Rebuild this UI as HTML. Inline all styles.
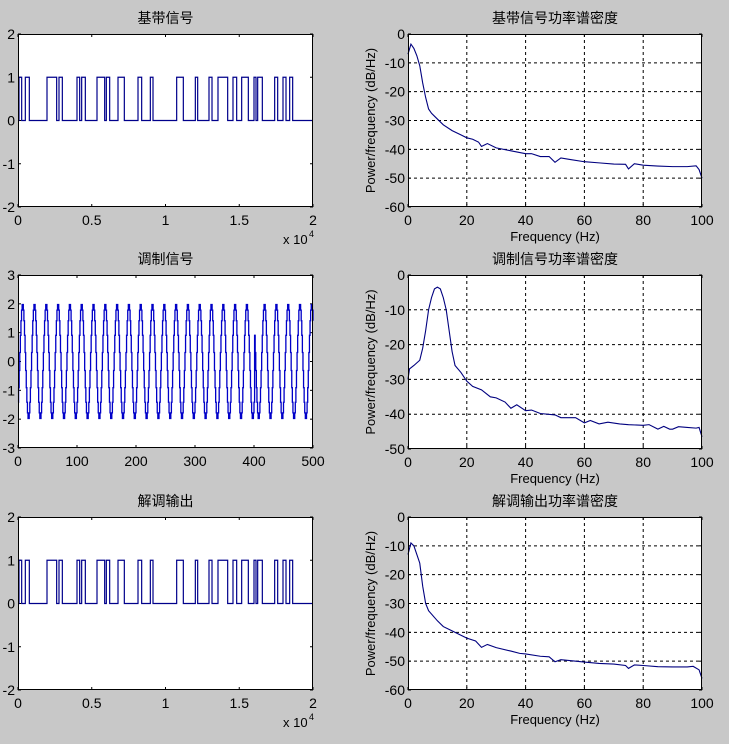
<!DOCTYPE html>
<html><head><meta charset="utf-8">
<style>
html,body{margin:0;padding:0;background:#c8c8c8;}
svg{display:block;}
text{font-family:"Liberation Sans","Noto Sans CJK SC",sans-serif;fill:#000;}
</style></head>
<body>
<svg id="fig" width="729" height="744" viewBox="0 0 729 744" xmlns="http://www.w3.org/2000/svg">
<rect x="0" y="0" width="729" height="744" fill="#c8c8c8"/>
</svg>
<script>
// ---- data ----
// baseband high intervals (sample index, start/end), 20000 samples
const bitRises = [68,497,1966,2780,4000,4316,5356,5989,6780,8136,8972,10757,12023,12949,13559,14576,15164,16000,16249,17401,17966,18418];
const bitFalls = [249,768,2621,3006,4181,4565,5876,6215,7209,8384,9153,11209,12181,13153,14215,14825,15616,16136,16565,17605,18170,18621];
// modulated carrier parameters & phase flips
const carrierAmp = [2];
const carrierPeriod = [20];
const carrierOffset = [2.5];
const phaseFlips = [401];
// PSD series
const psd1F = [0,1,2,3,4,5,6,7,8,10,12,15,18,20,22,24,25,26,27,30,35,40,42,45,48,50,52,55,60,65,70,74,75,77,80,85,90,95,98,99,100];
const psd1V = [-7,-3.5,-5,-7.5,-11,-17,-22,-26,-27.5,-29.5,-31.5,-33.5,-35,-36,-36.5,-37.5,-39,-38.5,-38,-39.5,-40.5,-41.5,-41.5,-42.5,-42.5,-44.5,-43,-43.5,-44.3,-44.7,-45.1,-45.2,-46.8,-45,-45.5,-45.8,-46,-46,-45.7,-47,-50];
const psd2F = [0,0.5,2,4,5,6,7,8,9,10,11,12,13,14,15,16,18,20,22,25,28,30,33,35,37,40,42,45,50,52,57,60,62,65,68,72,75,80,82,85,87,89,90,92,95,98,99,100];
const psd2V = [-30,-27,-26,-24.5,-21,-16,-10,-6.5,-4,-3.5,-4,-6.5,-10,-16,-22,-26,-28,-30.5,-32,-33,-35,-35.3,-36.5,-38.3,-37.3,-39,-38.8,-39.8,-40.2,-41,-41,-42.5,-41.8,-42.8,-42.3,-42.8,-43,-43.2,-43,-44.3,-43.5,-44.3,-44.3,-43.6,-43.8,-44,-43.8,-46.5];
const psd3F = [0,1,2,3,4,5,6,7,10,12,15,18,20,23,25,27,30,35,38,40,45,48,50,52,55,60,65,70,74,75,77,80,85,90,95,97,99,100];
const psd3V = [-13,-9,-10,-13,-16,-24,-30,-32.5,-36,-38,-39.5,-41,-42,-43,-45.2,-44.2,-45.3,-46.5,-47.3,-47.5,-48.3,-48.5,-50.2,-49.5,-49.8,-50.3,-50.8,-51,-51.5,-52.5,-51.3,-51.5,-51.9,-52,-52,-51.8,-53,-56];
const digXTicks = ["0","0.5","1","1.5","2"];
const digYTicks = ["-2","-1","0","1","2"];
const modXTicks = ["0","100","200","300","400","500"];
const modYTicks = ["-3","-2","-1","0","1","2","3"];
const freqTicks = ["0","20","40","60","80","100"];
const psd1YTicks = ["-60","-50","-40","-30","-20","-10","0"];
const psd2YTicks = ["-50","-40","-30","-20","-10","0"];
const psd3YTicks = ["-60","-50","-40","-30","-20","-10","0"];

const NS="http://www.w3.org/2000/svg";
const fig=document.getElementById('fig');
function mk(tag,attrs,parent){const e=document.createElementNS(NS,tag);for(const k in attrs)e.setAttribute(k,attrs[k]);(parent||fig).appendChild(e);return e;}

function axes(name,x0,y0,x1,y1,xmin,xmax,ymin,ymax,xt,yt,grid,title){
  const g=mk('g',{});
  
  
  const r=mk('rect',{x:x0,y:y0,width:x1-x0,height:y1-y0,fill:'#fff'},g);
  
  
  const sx=v=>x0+(v-xmin)/(xmax-xmin)*(x1-x0);
  const sy=v=>y1-(v-ymin)/(ymax-ymin)*(y1-y0);
  xt.forEach((lab,i)=>{
    const v=xmin+i*(xmax-xmin)/(xt.length-1);const X=sx(v);
    if(grid&&i>0&&i<xt.length-1) mk('line',{x1:X,y1:y0,x2:X,y2:y1,stroke:'#000','stroke-width':1,'stroke-dasharray':'3,3'},g);
    mk('line',{x1:X,y1:y1,x2:X,y2:y1-3,stroke:'#000'},g);
    mk('line',{x1:X,y1:y0,x2:X,y2:y0+3,stroke:'#000'},g);
    const t=mk('text',{x:X,y:y1+18,'font-size':14,'text-anchor':'middle'},g);t.textContent=lab;
    
    
  });
  yt.forEach((lab,i)=>{
    const v=ymin+i*(ymax-ymin)/(yt.length-1);const Y=sy(v);
    if(grid&&i>0&&i<yt.length-1) mk('line',{x1:x0,y1:Y,x2:x1,y2:Y,stroke:'#000','stroke-width':1,'stroke-dasharray':'3,3'},g);
    mk('line',{x1:x0,y1:Y,x2:x0+3,y2:Y,stroke:'#000'},g);
    mk('line',{x1:x1,y1:Y,x2:x1-3,y2:Y,stroke:'#000'},g);
    const t=mk('text',{x:x0-3,y:Y+5,'font-size':14,'text-anchor':'end'},g);t.textContent=lab;
    
    
  });
  const tt=mk('text',{x:(x0+x1)/2,y:y0-11,'font-size':14,'text-anchor':'middle'},g);tt.textContent=title;
  
  
  return {g,sx,sy,box:()=>{mk('rect',{x:x0+0.5,y:y0+0.5,width:x1-x0-1,height:y1-y0-1,fill:'none',stroke:'#000'},g);}};
}

function digital(name,y0,y1,title,mult){
  const a=axes(name,18,y0,313,y1,0,20000,-2,2,digXTicks,digYTicks,false,title);
  let d=`M${a.sx(0)},${a.sy(0)}`;
  for(let i=0;i<bitRises.length;i++){
    d+=` L${a.sx(bitRises[i])},${a.sy(0)} L${a.sx(bitRises[i])},${a.sy(1)} L${a.sx(bitFalls[i])},${a.sy(1)} L${a.sx(bitFalls[i])},${a.sy(0)}`;
  }
  d+=` L${a.sx(20000)},${a.sy(0)}`;
  const p=mk('path',{d,fill:'none',stroke:'#00008b','stroke-width':1.2},a.g);
  
  
  a.box();
  const m=mk('text',{x:283,y:y1+37,'font-size':13},a.g);m.textContent='x 10';
  
  
  const s=mk('text',{x:309,y:y1+30,'font-size':9},a.g);s.textContent='4';
  
  
}

digital('baseband-axes',34,207,'基带信号');
digital('demod-axes',517,690,'解调输出');

// modulated
(function(){
  const a=axes('modulated-axes',18,275,313,448,0,500,-3,3,modXTicks,modYTicks,false,'调制信号');
  let d='';
  for(let n=0;n<=500;n++){
    let flips=phaseFlips.filter(f=>n>=f).length;
    let v=carrierAmp[0]*Math.sin(2*Math.PI*(n-carrierOffset[0])/carrierPeriod[0]+flips*Math.PI);
    d+=(n===0?`M${a.sx(n)},${a.sy(v)}`:` L${a.sx(n)},${a.sy(v)}`);
    if(n<500) d+=` L${a.sx(n+1)},${a.sy(v)}`;
  }
  const p=mk('path',{d,fill:'none',stroke:'#0000c8','stroke-width':1.3},a.g);
  
  
  a.box();
})();

function psd(name,y0,y1,ymin,F,V,yt,title){
  const a=axes(name,408,y0,702,y1,0,100,ymin,0,freqTicks,yt,true,title);
  const d=F.map((f,i)=>(i?'L':'M')+a.sx(f)+','+a.sy(V[i])).join(' ');
  const p=mk('path',{d,fill:'none',stroke:'#00007f','stroke-width':1.1},a.g);
  
  
  a.box();
  const xl=mk('text',{x:555,y:y1+34,'font-size':13,'text-anchor':'middle'},a.g);xl.textContent='Frequency (Hz)';
  
  
  const cy=(y0+y1)/2;
  const yl=mk('text',{x:375,y:cy,'font-size':13,'text-anchor':'middle',transform:`rotate(-90 375 ${cy})`},a.g);yl.textContent='Power/frequency (dB/Hz)';
  
  
}
psd('baseband-psd-axes',34,207,-60,psd1F,psd1V,psd1YTicks,'基带信号功率谱密度');
psd('modulated-psd-axes',275,449,-50,psd2F,psd2V,psd2YTicks,'调制信号功率谱密度');
psd('demod-psd-axes',517,690,-60,psd3F,psd3V,psd3YTicks,'解调输出功率谱密度');
</script>
</body></html>
